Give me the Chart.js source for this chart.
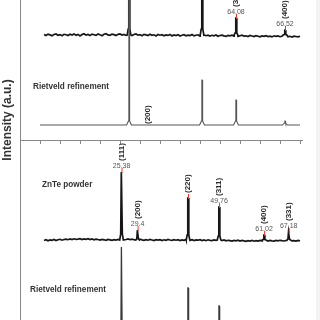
<!DOCTYPE html>
<html>
<head>
<meta charset="utf-8">
<script src="https://cdn.jsdelivr.net/npm/chart.js@4.4.1/dist/chart.umd.min.js"></script>
<style>
  html, body { margin: 0; padding: 0; background: #f3f3f3; }
  #wrap { width: 316px; height: 320px; background: #fff; }
</style>
</head>
<body>
<div id="wrap"><canvas id="xrd" width="316" height="320"></canvas></div>
<script>
// 2-theta grid of the measured (noisy) baselines
const noiseStart = 6;
const noiseStep = 0.5;

// baseline wiggle of the upper measured pattern, 6..70 deg
const topNoise = [
  0.6, -0.4, 0.9, 0.1, -0.7, 0.5, 1.0, -0.3, 0.4, -0.8, 0.7, 0.2,
  -0.5, 0.8, 0.0, 1.1, -0.2, 0.6, -0.9, 0.4, 1.2, -0.1, 0.5, -0.6,
  0.9, 0.3, -0.4, 1.0, 0.2, -0.7, 0.8, 1.3, 0.1, -0.3, 0.9, 0.4,
  -0.5, 0.7, 1.1, 0.0, 0.6, -0.4, 0.8, 0.3, -0.6, 0.5, 1.0, -0.2,
  0.4, -0.8, 0.6, 0.1, -0.5, 0.7, -0.3, 0.2, -0.9, 0.5, -0.2, 0.3,
  -0.7, 0.1, -0.4, 0.6, -0.9, 0.0, -0.5, 0.4, -1.0, -0.2, 0.3, -0.8,
  -0.1, -0.6, 0.5, -0.9, -0.3, 0.2, -1.1, -0.4, 0.1, -0.7, -0.2, -1.0,
  -0.3, -0.8, 0.0, -1.2, -0.5, -0.1, -0.9, -1.4, -0.4, -0.8, -0.2, -1.1,
  -0.6, -1.3, -0.7, -0.2, -1.2, -0.8, -1.5, -0.5, -1.0, -1.6, -0.7, -1.2,
  -1.8, -0.9, -1.3, -0.6, -1.5, -1.1, -1.9, -0.8, -1.4, -1.0, -1.7, -1.2,
  -1.6, -0.9, -1.8, -1.3, -2.0, -1.1, -1.5, -1.9, -1.2
];

// baseline wiggle of the ZnTe powder pattern, 6..70 deg
const botNoise = [
  -0.5, 0.3, -0.8, 0.1, -0.3, 0.6, -0.6, 0.2, 0.7, -0.2, 0.5, 0.9,
  0.3, 1.0, 0.4, 1.2, 0.6, 0.9, 1.4, 0.5, 1.1, 0.7, 1.3, 0.4,
  1.0, 0.2, 0.8, 0.5, -0.1, 0.6, 0.2, -0.4, 0.5, 0.1, -0.3, 0.4,
  0.0, 0.6, 0.3, 0.9, 0.2, 0.5, 1.0, 0.4, 0.8, 0.3, 0.6, 0.2,
  0.7, 0.1, -0.3, 0.4, -0.2, 0.5, 0.0, -0.6, 0.3, -0.1, 0.4, -0.5,
  0.2, -0.3, 0.5, 0.0, -0.4, 0.3, -0.2, 0.4, -0.5, 0.1, -0.3, 0.6,
  0.0, -0.4, 0.3, -0.6, 0.1, -0.2, 0.4, -0.5, 0.0, -0.7, 0.2, -0.3,
  -0.6, 0.1, -0.4, -0.8, -0.2, -0.5, 0.0, -0.9, -0.3, -0.6, -1.0, -0.4,
  -0.8, -0.2, -1.1, -0.5, -0.9, -1.3, -0.6, -1.0, -0.4, -1.2, -0.7, -1.1,
  -0.5, -0.9, -1.2, -0.6, -1.0, -0.4, -0.8, -1.1, -0.5, -0.9, -0.3, -0.7,
  -1.0, -0.5, -0.8, -0.2, -0.9, -0.6, -1.1, -0.4, -0.8
];

// upper panel peaks
const topPeaks = [27.25, 45.5, 54.0, 66.25];
const topExpHeights = [300, 300, 17, 5];
const topRefHeights = [140, 45, 25, 4];
const topHkl = ["", "", "(311)", "(400)"];
const topValues = ["", "", "64.08", "66.52"];

// ZnTe powder peaks
const botPeaks = [25.38, 29.4, 42.0, 49.76, 61.02, 67.18];
const botExpHeights = [68, 10, 42, 33, 5, 8];
const botRefHeights = [88, 6, 47, 29, 4, 5];
const botHkl = ["(111)", "(200)", "(220)", "(311)", "(400)", "(331)"];
const botValues = ["25.38", "29.4", "", "49.76", "61.02", "67.18"];

// reflection marked on the upper refinement
const refHklPos = [32.0];
const refHkl = ["(200)"];

// vertical offsets of the stacked traces
const topExpBase = 285;
const topRefBase = 195;
const botExpBase = 80;
const botRefBase = -15;

const panelTexts = ["Rietveld refinement", "ZnTe powder", "Rietveld refinement"];
const panelTextX = [3.25, 5.5, 2.5];
const panelTextY = [233, 135, 30];

// measured trace: noisy baseline + sharp peaks
function measured(base, noise, peaks, heights) {
  const pts = [];
  noise.forEach((n, i) => {
    const x = noiseStart + i * noiseStep;
    if (peaks.every((p) => Math.abs(x - p) >= 0.5)) pts.push({ x: x, y: base + n });
  });
  peaks.forEach((p, i) => {
    const h = heights[i];
    const sh = Math.min(h * 0.12, 6);
    pts.push({ x: p - 0.45, y: base }, { x: p - 0.2, y: base + sh },
      { x: p - 0.05, y: base + h }, { x: p + 0.05, y: base + h },
      { x: p + 0.2, y: base + sh }, { x: p + 0.45, y: base });
  });
  return pts.sort((a, b) => a.x - b.x);
}

// calculated trace: flat baseline + peaks
function refined(base, peaks, heights) {
  const pts = [{ x: 5, y: base }, { x: 70, y: base }];
  peaks.forEach((p, i) => {
    const h = heights[i];
    const sh = Math.min(4, h * 0.5);
    pts.push({ x: p - 0.6, y: base }, { x: p - 0.15, y: base + sh },
      { x: p - 0.03, y: base + h }, { x: p + 0.03, y: base + h },
      { x: p + 0.15, y: base + sh }, { x: p + 0.6, y: base });
  });
  return pts.sort((a, b) => a.x - b.x);
}

function lineSet(data, color, width) {
  return { data: data, borderColor: color, borderWidth: width, pointRadius: 0, tension: 0, fill: false };
}

// labels, captions and axis title
const textPlugin = {
  id: "xrdText",
  afterDatasetsDraw(chart) {
    const { ctx, scales: { x, y } } = chart;
    ctx.save();

    function peakLabels(peaks, heights, base, hkl, vals) {
      peaks.forEach((p, i) => {
        if (!hkl[i] && !vals[i]) return;
        const px = x.getPixelForValue(p);
        const top = y.getPixelForValue(base + heights[i]);
        ctx.strokeStyle = "#e23b2e";
        ctx.lineWidth = 1;
        ctx.beginPath();
        ctx.moveTo(px + 0.5, top - 4);
        ctx.lineTo(px + 0.5, top + 1);
        ctx.stroke();
        if (vals[i]) {
          ctx.fillStyle = "#555";
          ctx.font = "7px Arial, 'Liberation Sans'";
          ctx.textAlign = "center";
          ctx.textBaseline = "middle";
          ctx.fillText(vals[i], px, top - 6);
        }
        if (hkl[i]) {
          ctx.save();
          ctx.translate(px, top - (vals[i] ? 11 : 5));
          ctx.rotate(-Math.PI / 2);
          ctx.fillStyle = "#2a2a2a";
          ctx.font = "bold 8px Arial, 'Liberation Sans'";
          ctx.textAlign = "left";
          ctx.textBaseline = "middle";
          ctx.fillText(hkl[i], 0, 0);
          ctx.restore();
        }
      });
    }
    peakLabels(topPeaks, topExpHeights, topExpBase, topHkl, topValues);
    peakLabels(botPeaks, botExpHeights, botExpBase, botHkl, botValues);

    refHklPos.forEach((p, i) => {
      ctx.save();
      ctx.translate(x.getPixelForValue(p), y.getPixelForValue(topRefBase) - 1);
      ctx.rotate(-Math.PI / 2);
      ctx.fillStyle = "#2a2a2a";
      ctx.font = "bold 8px Arial, 'Liberation Sans'";
      ctx.textAlign = "left";
      ctx.textBaseline = "middle";
      ctx.fillText(refHkl[i], 0, 0);
      ctx.restore();
    });

    ctx.fillStyle = "#333";
    ctx.font = "bold 8.2px Arial, 'Liberation Sans'";
    ctx.textAlign = "left";
    ctx.textBaseline = "middle";
    panelTexts.forEach((t, i) => {
      ctx.fillText(t, x.getPixelForValue(panelTextX[i]), y.getPixelForValue(panelTextY[i]));
    });

    ctx.save();
    ctx.translate(chart.chartArea.left - 12, y.getPixelForValue(200));
    ctx.rotate(-Math.PI / 2);
    ctx.fillStyle = "#333";
    ctx.font = "bold 12px Arial, 'Liberation Sans'";
    ctx.textAlign = "center";
    ctx.textBaseline = "middle";
    ctx.fillText("Intensity (a.u.)", 0, 0);
    ctx.restore();

    ctx.restore();
  }
};

new Chart(document.getElementById("xrd"), {
  type: "line",
  data: {
    datasets: [
      lineSet(refined(topRefBase, topPeaks, topRefHeights), "#555", 1.1),
      lineSet(measured(topExpBase, topNoise, topPeaks, topExpHeights), "#161616", 1.7),
      lineSet(refined(botRefBase, botPeaks, botRefHeights), "#3a3a3a", 1.3),
      lineSet(measured(botExpBase, botNoise, botPeaks, botExpHeights), "#161616", 1.7)
    ]
  },
  options: {
    responsive: false,
    animation: false,
    layout: { padding: { left: 0, right: 14, top: 0, bottom: 0 } },
    plugins: { legend: { display: false }, tooltip: { enabled: false } },
    scales: {
      x: {
        type: "linear",
        position: { y: 180 },
        min: 0,
        max: 70.5,
        afterFit: (s) => { s.height = 0; },
        ticks: { display: false, stepSize: 5, includeBounds: false },
        grid: { display: true, drawOnChartArea: false, drawTicks: true, tickLength: 3, color: "#888", tickColor: "#888" },
        border: { display: true, color: "#888", width: 1 }
      },
      y: {
        type: "linear",
        min: 0,
        max: 320,
        afterFit: (s) => { s.width = 20; },
        ticks: { display: false },
        grid: { display: false },
        border: { display: true, color: "#888", width: 1 }
      }
    }
  },
  plugins: [textPlugin]
});
</script>
</body>
</html>
